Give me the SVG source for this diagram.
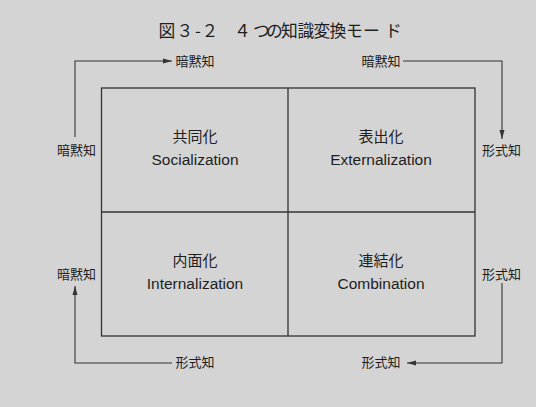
<svg xmlns="http://www.w3.org/2000/svg" width="536" height="407" viewBox="0 0 536 407">
  <defs>
    <marker id="arrow" markerUnits="userSpaceOnUse" markerWidth="10" markerHeight="8" refX="9" refY="3" orient="auto">
      <path d="M0,0.5 L9,3 L0,5.5 Z" fill="#333"/>
    </marker>
  </defs>
  <style>
    .jp { font-family: "Noto Sans CJK JP", "Noto Sans", sans-serif; fill: #1e1e1e; }
    .en { font-family: "Liberation Sans", Arial, sans-serif; fill: #1e1e1e; }
    .lbl { font-size: 13px; }
    .qj { font-size: 15px; }
    .qe { font-size: 15.5px; }
    .box { fill: none; stroke: #333; stroke-width: 1.3; }
    .conn { fill: none; stroke: #333; stroke-width: 1.1; }
  </style>
  <rect x="0" y="0" width="536" height="407" fill="#d4d4d4"/>
  <text class="jp" y="37" font-size="16.8" x="158.5 176.5 195 201.5 218 234 253 266 281 297.5 313.5 329.5 346 363 385">図３-２　４つの知識変換モード</text>

  <g id="matrix">
    <rect class="box" x="101.5" y="88" width="373.5" height="248"/>
    <line class="box" x1="288" y1="88" x2="288" y2="336"/>
    <line class="box" x1="101.5" y1="212" x2="475" y2="212"/>
  </g>

  <g id="socialization" text-anchor="middle">
    <text class="jp qj" x="195" y="142">共同化</text>
    <text class="en qe" x="195" y="165">Socialization</text>
  </g>
  <g id="externalization" text-anchor="middle">
    <text class="jp qj" x="381" y="142">表出化</text>
    <text class="en qe" x="381" y="165">Externalization</text>
  </g>
  <g id="internalization" text-anchor="middle">
    <text class="jp qj" x="195" y="266">内面化</text>
    <text class="en qe" x="195" y="289">Internalization</text>
  </g>
  <g id="combination" text-anchor="middle">
    <text class="jp qj" x="381" y="266">連結化</text>
    <text class="en qe" x="381" y="289">Combination</text>
  </g>

  <g id="labels" text-anchor="middle">
    <text class="jp lbl" x="195" y="66">暗黙知</text>
    <text class="jp lbl" x="381" y="66">暗黙知</text>
    <text class="jp lbl" x="76.5" y="155">暗黙知</text>
    <text class="jp lbl" x="501.5" y="155">形式知</text>
    <text class="jp lbl" x="76.5" y="279">暗黙知</text>
    <text class="jp lbl" x="501.5" y="279">形式知</text>
    <text class="jp lbl" x="195" y="367">形式知</text>
    <text class="jp lbl" x="381" y="367">形式知</text>
  </g>

  <g id="connectors">
    <polyline class="conn" points="75,137 75,61 172,61" marker-end="url(#arrow)"/>
    <polyline class="conn" points="403,61 502,61 502,139" marker-end="url(#arrow)"/>
    <polyline class="conn" points="172,363 75,363 75,286" marker-end="url(#arrow)"/>
    <polyline class="conn" points="502,283 502,363 407,363" marker-end="url(#arrow)"/>
  </g>
</svg>
